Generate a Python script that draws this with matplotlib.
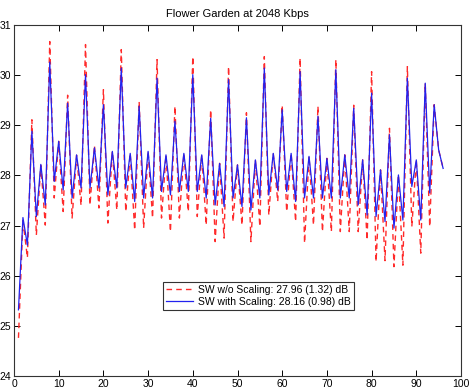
import matplotlib
matplotlib.use("Agg")
import matplotlib.pyplot as plt
import numpy as np

plt.rcParams['font.family'] = ['Liberation Sans', 'DejaVu Sans']

frames = list(range(1, 97))

with_scaling = [
    25.32, 27.16, 26.61, 28.88, 27.18, 28.22, 27.41, 30.26, 27.88, 28.68,
    27.71, 29.44, 27.55, 28.41, 27.75, 30.01, 27.75, 28.55, 27.75, 29.41,
    27.61, 28.48, 27.75, 30.14, 27.75, 28.44, 27.48, 29.38, 27.55, 28.48,
    27.55, 29.94, 27.68, 28.41, 27.61, 29.08, 27.68, 28.44, 27.68, 30.01,
    27.68, 28.41, 27.55, 29.14, 27.41, 28.24, 27.38, 29.91, 27.55, 28.21,
    27.38, 29.15, 27.31, 28.31, 27.55, 30.14, 27.61, 28.44, 27.71, 29.31,
    27.68, 28.44, 27.48, 30.07, 27.55, 28.38, 27.55, 29.18, 27.55, 28.34,
    27.55, 30.11, 27.55, 28.41, 27.55, 29.34, 27.41, 28.31, 27.21, 29.64,
    27.18, 28.11, 27.08, 28.81, 26.95, 28.01, 27.11, 29.94, 27.78, 28.31,
    27.11, 29.84, 27.65, 29.41, 28.51, 28.14,
]

without_scaling = [
    24.76, 27.10, 26.36, 29.11, 26.81, 28.20, 27.01, 30.67, 27.55, 28.68,
    27.28, 29.60, 27.15, 28.40, 27.40, 30.61, 27.41, 28.60, 27.35, 29.71,
    27.05, 28.48, 27.31, 30.51, 27.28, 28.44, 26.91, 29.47, 26.95, 28.48,
    27.15, 30.31, 27.15, 28.41, 26.88, 29.38, 27.15, 28.44, 27.28, 30.37,
    27.18, 28.41, 27.01, 29.31, 26.68, 28.24, 26.75, 30.17, 27.08, 28.21,
    27.01, 29.25, 26.68, 28.31, 26.98, 30.37, 27.21, 28.44, 27.48, 29.40,
    27.28, 28.44, 27.08, 30.34, 26.65, 28.38, 27.01, 29.38, 26.88, 28.34,
    26.88, 30.31, 26.88, 28.41, 26.88, 29.40, 26.88, 28.31, 26.71, 30.07,
    26.28, 28.11, 26.30, 28.94, 26.18, 28.01, 26.21, 30.17, 26.98, 28.31,
    26.45, 29.84, 26.98, 29.41, 28.51, 28.14,
]

label_wo = "SW w/o Scaling: 27.96 (1.32) dB"
label_w = "SW with Scaling: 28.16 (0.98) dB"
title = "Flower Garden at 2048 Kbps"

fig = plt.figure(figsize=(4.74, 3.91), dpi=100)
ax = fig.add_axes([14/474, 15/391, 447/474, 351/391])

ax.plot(frames, without_scaling, color='#ff2a2a', linestyle=(0, (4, 3)), linewidth=1.0, label=label_wo)
ax.plot(frames, with_scaling, color='#2222ee', linestyle='-', linewidth=0.9, label=label_w)

ax.set_xlim(0, 100)
ax.set_ylim(24, 31)
ax.set_xticks(range(0, 101, 10))
ax.set_yticks(range(24, 32))
ax.tick_params(direction='in', length=4, width=0.7, labelsize=7.5, top=True, right=True, pad=2)
for s in ax.spines.values():
    s.set_linewidth(0.8)
    s.set_color('#333333')

ax.set_title(title, fontsize=8, pad=6)

leg = ax.legend(loc='upper left', bbox_to_anchor=(0.333, 0.268), fontsize=7.5,
                fancybox=False, framealpha=1, edgecolor='#333333', handlelength=2.6,
                borderpad=0.3, labelspacing=0.15, handletextpad=0.5, borderaxespad=0)
leg.get_frame().set_linewidth(0.8)

fig.savefig("out.png", dpi=100)
